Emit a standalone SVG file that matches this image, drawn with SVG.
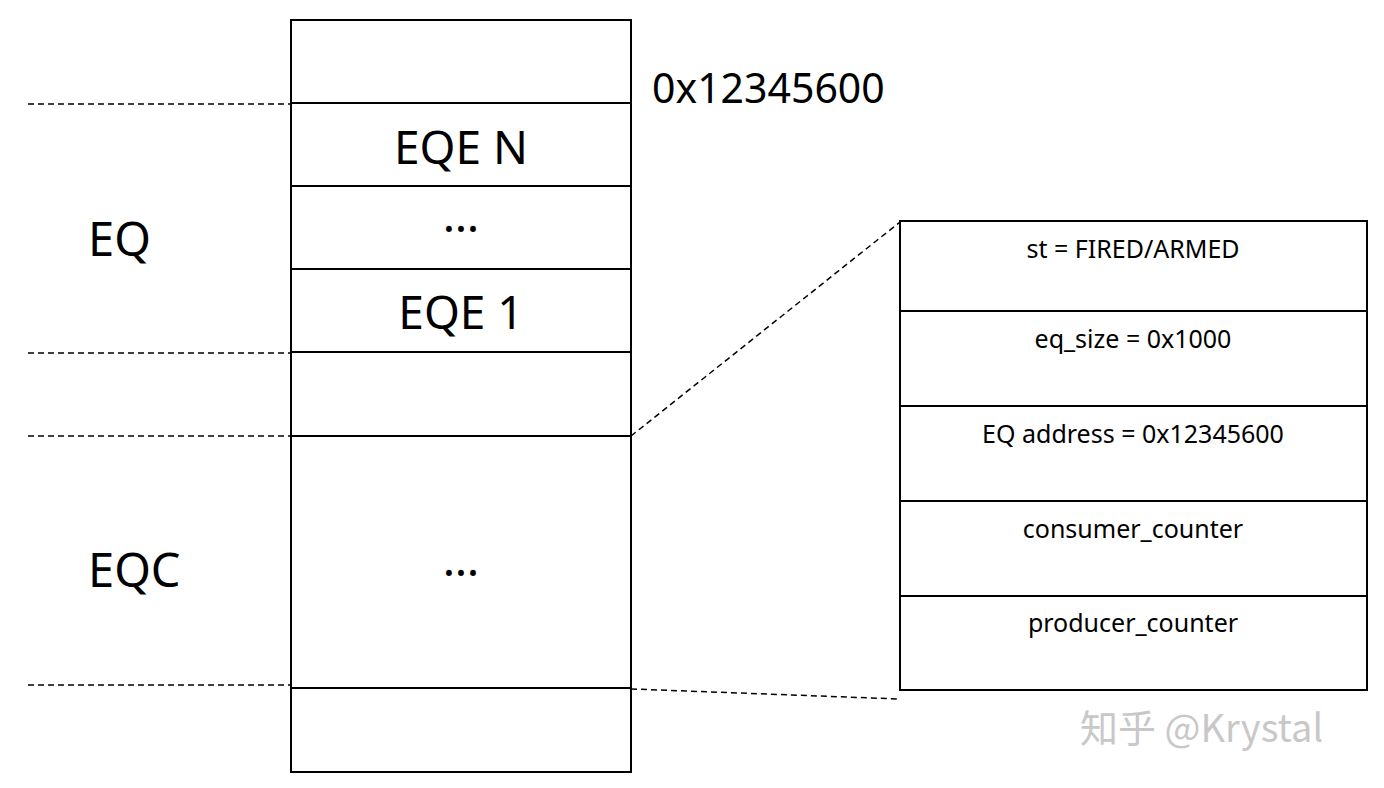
<svg xmlns="http://www.w3.org/2000/svg" width="1384" height="788" viewBox="0 0 1384 788">
<style>
.s{stroke:#000;stroke-width:2;fill:none}
.d{stroke:#000;stroke-width:1.5;stroke-dasharray:6,4;fill:none}
text{font-family:"Microsoft YaHei","Noto Sans","DejaVu Sans",sans-serif;fill:#000}
.big{font-size:46px;text-anchor:middle}
.lab{font-size:47px}
.f{font-size:25px;text-anchor:middle}
</style>
<rect width="1384" height="788" fill="#fff"/>
<g id="memory">
<rect class="s" x="291" y="20" width="340" height="752"/>
<path class="s" d="M291 103H631M291 186H631M291 269H631M291 352H631M291 436H631M291 688H631"/>
<text class="big" x="461" y="164">EQE N</text>
<text class="big" x="461" y="232">…</text>
<text class="big" x="461" y="329">EQE 1</text>
<text class="big" x="461" y="576">…</text>
</g>
<text x="652" y="103" font-size="41" style="font-family:'Microsoft YaHei','Noto Sans',sans-serif">0x12345600</text>
<text class="lab" x="88" y="256">EQ</text>
<text class="lab" x="88" y="587">EQC</text>
<g id="eqc">
<rect class="s" x="900" y="221" width="467" height="469"/>
<path class="s" d="M900 311H1367M900 406H1367M900 501H1367M900 596H1367"/>
<text class="f" x="1133" y="258">st = FIRED/ARMED</text>
<text class="f" x="1133" y="348">eq_size = 0x1000</text>
<text class="f" x="1133" y="443">EQ address = 0x12345600</text>
<text class="f" x="1133" y="538">consumer_counter</text>
<text class="f" x="1133" y="632">producer_counter</text>
</g>
<g id="connectors">
<path class="d" d="M28 104H291M28 353H291M28 436H291M28 685H291"/>
<path class="d" d="M631 436L900 222M631 689L900 699"/>
</g>
<text x="1080" y="742" font-size="38" style="fill:#c8c8c8;font-family:'Noto Sans CJK SC',sans-serif">知乎 @Krystal</text>
</svg>
